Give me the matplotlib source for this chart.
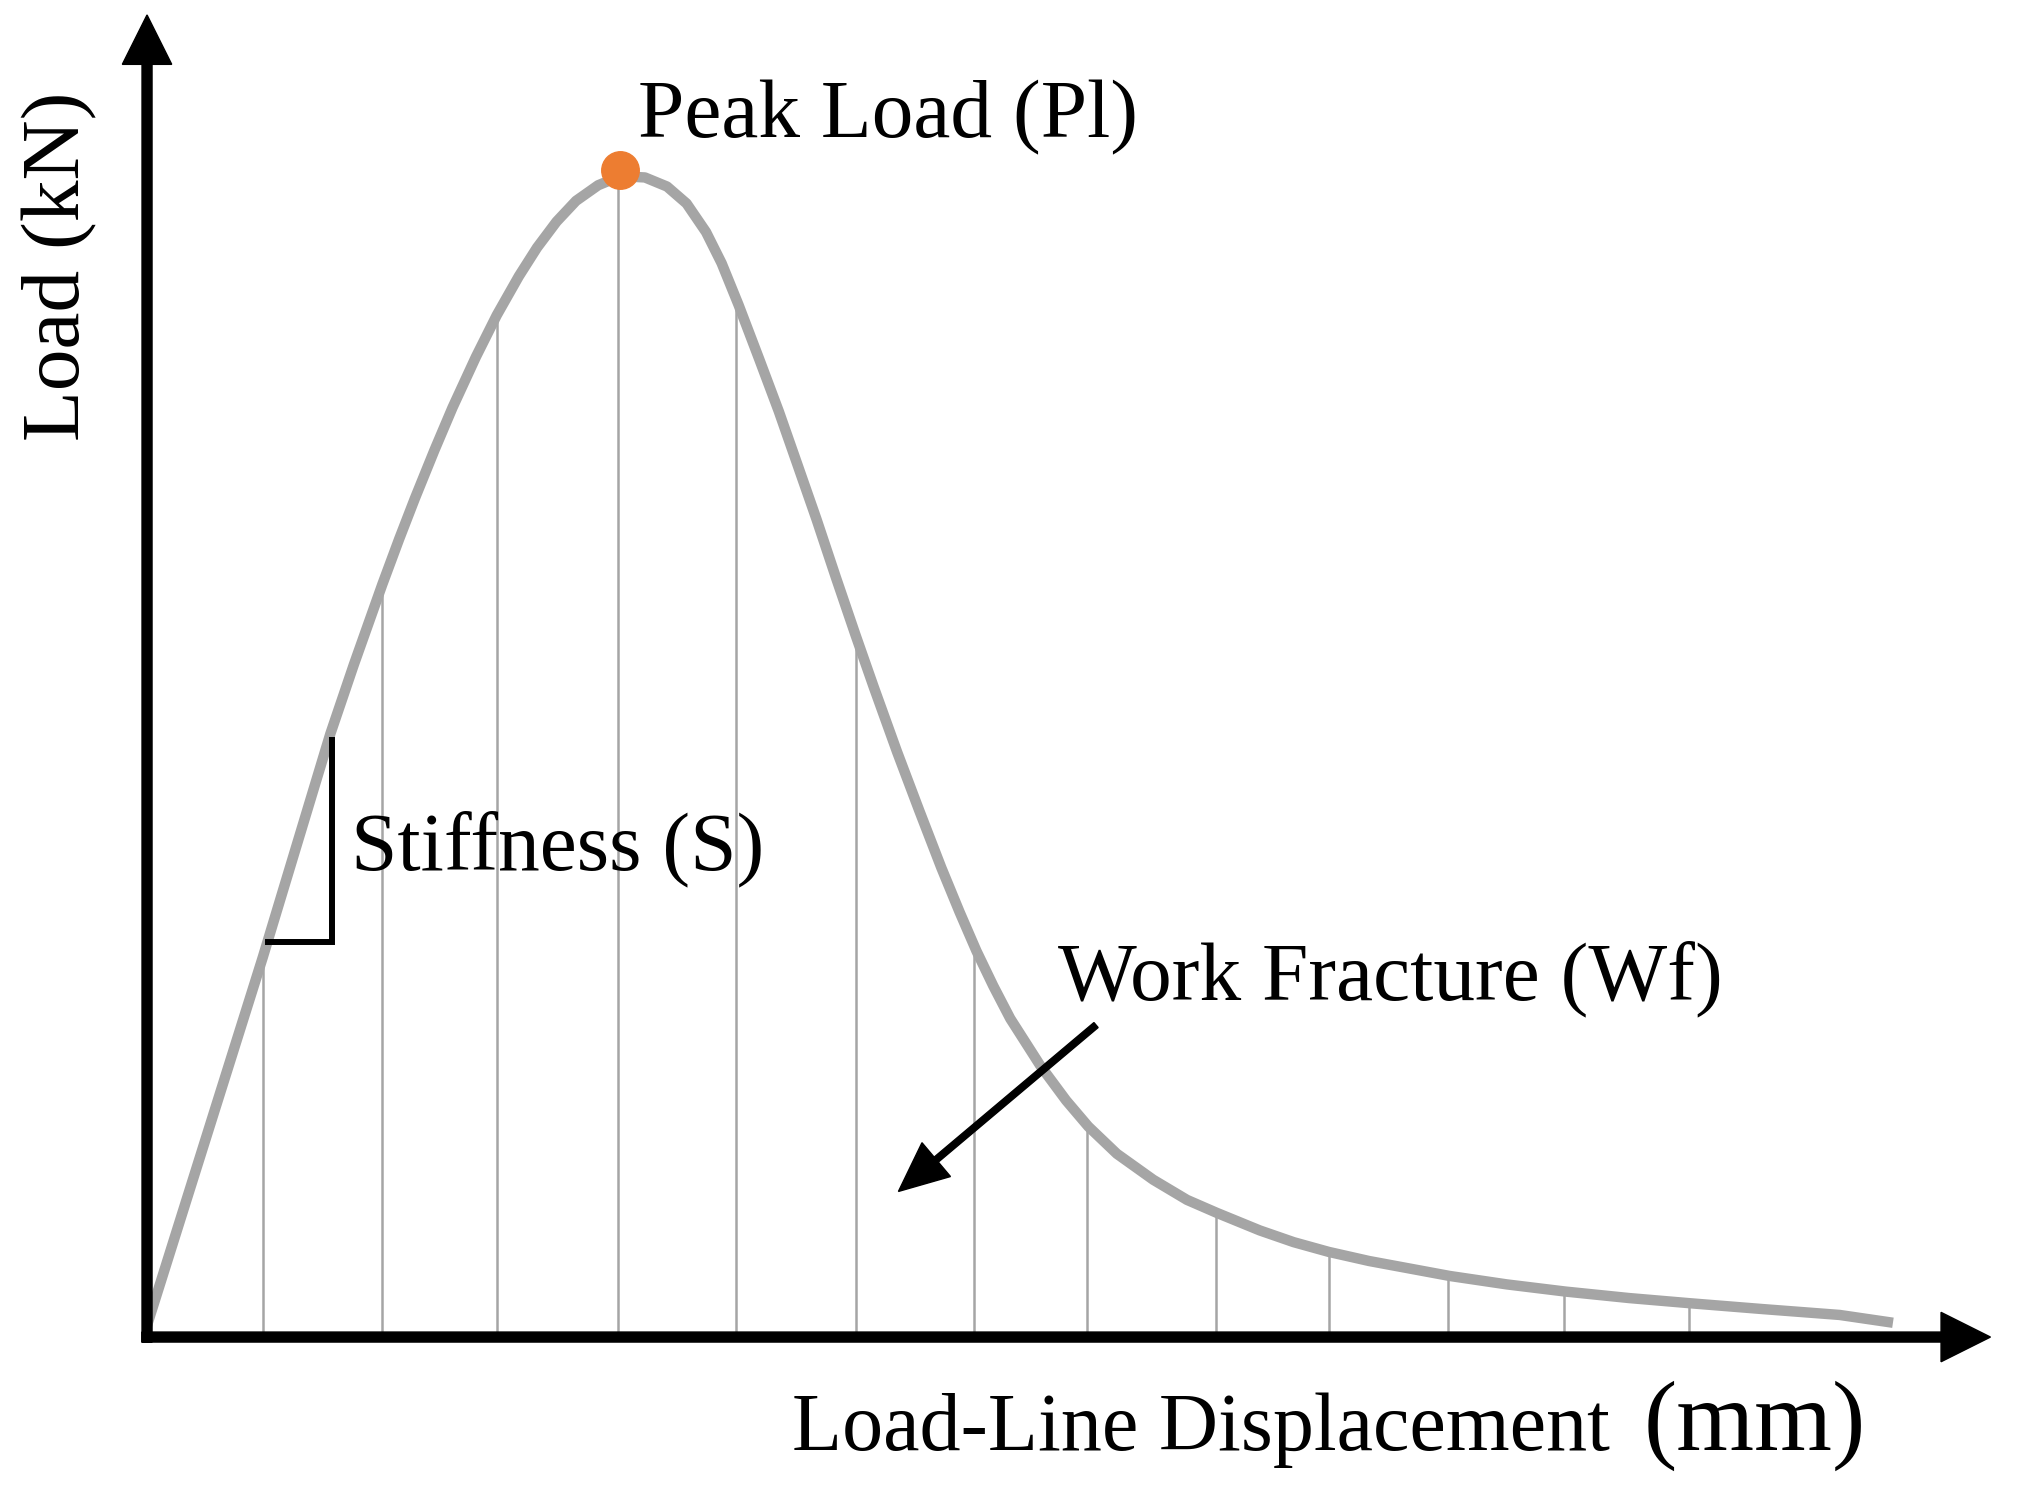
import matplotlib
matplotlib.use("Agg")
import matplotlib.pyplot as plt

# load-displacement curve (arbitrary units)
disp = [0.00, 0.89, 1.41, 1.59, 1.81, 1.94, 2.06, 2.21, 2.35, 2.53, 2.69,
        2.86, 3.00, 3.15, 3.30, 3.47, 3.64, 3.83, 4.00, 4.15, 4.30, 4.42,
        4.55, 4.71, 4.86, 5.00, 5.15, 5.30, 5.45, 5.59, 5.77, 5.94, 6.11,
        6.25, 6.38, 6.51, 6.64, 6.87, 7.07, 7.24, 7.46, 7.74, 8.00, 8.23,
        8.56, 8.82, 9.09, 9.40, 10.02, 10.46, 10.91, 11.40, 11.87, 12.43,
        13.02, 13.43]
load = [0.09, 2.92, 4.64, 5.17, 5.79, 6.14, 6.45, 6.82, 7.15, 7.54, 7.86,
        8.16, 8.38, 8.58, 8.74, 8.86, 8.93, 8.92, 8.85, 8.72, 8.50, 8.26,
        7.94, 7.52, 7.12, 6.72, 6.29, 5.84, 5.40, 5.00, 4.50, 4.05, 3.61,
        3.27, 2.97, 2.70, 2.45, 2.09, 1.82, 1.62, 1.41, 1.21, 1.055, 0.955,
        0.82, 0.73, 0.655, 0.585, 0.47, 0.405, 0.35, 0.30, 0.26, 0.215,
        0.17, 0.11]

# vertical strips under the curve (work of fracture)
strip_x = [0.89, 1.81, 2.69, 3.62, 4.53, 5.45, 6.36, 7.23, 8.22, 9.09, 10.01, 10.90, 11.86]
strip_h = [2.92, 5.79, 7.86, 8.93, 7.99, 5.40, 3.01, 1.62, 0.955, 0.655, 0.47, 0.35, 0.26]

peak_x = 3.64
peak_y = 8.98

grey = '#A5A5A5'
orange = '#ED7D31'
serif = 'Liberation Serif'

fig = plt.figure(figsize=(20.21, 14.95), dpi=100)
ax = fig.add_axes([0, 0, 1, 1])
ax.set_xlim(-1.131, 14.415)
ax.set_ylim(-1.215, 10.285)
ax.axis('off')

ax.vlines(strip_x, 0, strip_h, color=grey, lw=1.8, zorder=1)
ax.plot(disp, load, color=grey, lw=7.5, solid_joinstyle='round', solid_capstyle='butt', zorder=2)
ax.plot([peak_x], [peak_y], 'o', color=orange, ms=27, zorder=4)

# axes drawn as arrows
ax.arrow(0, -0.04, 0, 10.21, width=0.077, head_width=0.38, head_length=0.38,
         length_includes_head=True, color='black', zorder=3)
ax.arrow(-0.04, 0, 14.22, 0, width=0.077, head_width=0.38, head_length=0.38,
         length_includes_head=True, color='black', zorder=3)

# stiffness bracket
ax.plot([0.93, 1.42, 1.42], [3.04, 3.04, 4.59], color='black', lw=4.3,
        solid_joinstyle='miter', zorder=3)

# work of fracture pointer
ax.arrow(7.30, 2.40, -1.52, -1.28, width=0.05, head_width=0.34, head_length=0.38,
         length_includes_head=True, color='black', zorder=3)

fs = 60
ax.text(3.78, 9.23, 'Peak Load (Pl)', fontsize=fs, family=serif, ha='left', va='baseline')
ax.text(1.57, 3.60, 'Stiffness (S)', fontsize=fs, family=serif, ha='left', va='baseline')
ax.text(7.01, 2.60, 'Work Fracture (Wf)', fontsize=fs, family=serif, ha='left', va='baseline')
ax.text(4.96, -0.87, 'Load-Line Displacement ', fontsize=59, family=serif, ha='left', va='baseline')
ax.text(11.51, -0.87, '(mm)', fontsize=72, family=serif, ha='left', va='baseline')
ax.text(-0.67, 8.24, 'Load (kN)', fontsize=fs, family=serif, rotation=90, ha='center', va='center')

fig.savefig('out.png', dpi=100)
